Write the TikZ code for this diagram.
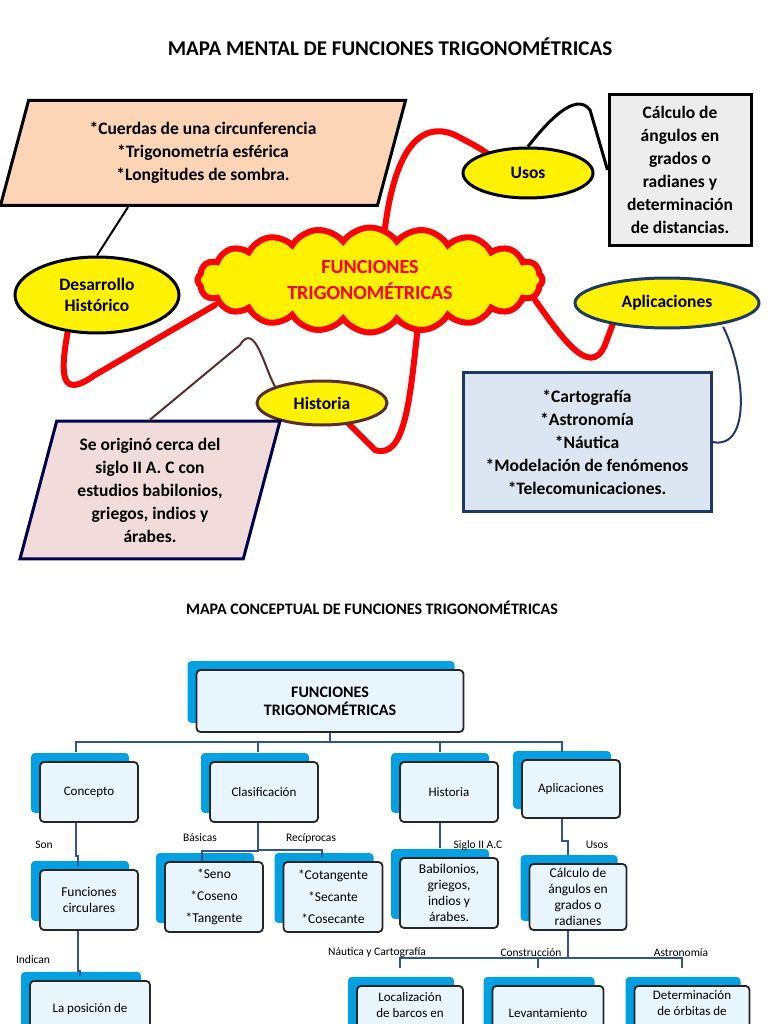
\documentclass[tikz,border=0pt]{standalone}
\usepackage{fontspec}
\setmainfont{Carlito}
\usetikzlibrary{positioning, shapes, shadows}
\definecolor{peach}{HTML}{FBD5B5}
\definecolor{rosa}{HTML}{F2DCDB}
\definecolor{azulc}{HTML}{DCE6F2}
\definecolor{azulo}{HTML}{1F3864}
\definecolor{cian}{HTML}{00A0E3}
\definecolor{celeste}{HTML}{E8F5FD}
\definecolor{linea}{HTML}{2F5597}
\definecolor{cafe}{HTML}{5A2D2D}

\begin{document}
\begin{tikzpicture}[x=1pt, y=-1pt, font=\bfseries,
    idea/.style = {ellipse, draw, line width=3pt, fill=yellow, font=\fontsize{17.5}{21}\selectfont\bfseries, align=center, inner sep=0pt},
    nota/.style = {draw, line width=3pt, align=center, font=\fontsize{17.5}{23}\selectfont\bfseries},
    rama/.style = {red, line width=6pt, line cap=round},
    caja/.style = {draw=black!85, line width=1.8pt, rounded corners=4pt, fill=celeste, align=center,
      font=\fontsize{13}{16}\selectfont,
      general shadow={fill=cian, shadow xshift=-9pt, shadow yshift=9pt}},
    enlace/.style = {draw=linea, line width=1.6pt},
    etiq/.style = {font=\fontsize{11.5}{13}\selectfont\mdseries},
    texto/.style = {align=center, font=\fontsize{13}{16}\selectfont\mdseries}]
  \useasboundingbox (0,0) rectangle (768,1024);
  \clip (0,0) rectangle (768,1024);

  % mapa mental
  \node (tit1) at (390,47) {\fontsize{21}{24}\selectfont MAPA MENTAL DE FUNCIONES TRIGONOMÉTRICAS};

  \draw[rama] (385,228) .. controls (395,150) and (420,120) .. (455,135) .. controls (470,143) and (485,150) .. (495,160);
  \draw[rama] (68,330) .. controls (60,375) and (60,400) .. (95,375) -- (215,305);
  \draw[rama] (418,325) .. controls (410,400) and (405,460) .. (375,450) -- (345,420);
  \draw[rama] (535,300) .. controls (560,335) and (590,380) .. (605,345) -- (615,318);

  \node[cloud, cloud puffs=20, cloud puff arc=110, aspect=3.4, draw=red, line width=6pt, fill=yellow, text=red,
    minimum width=345pt, minimum height=105pt, inner sep=0pt, align=center, font=\fontsize{20}{26}\selectfont\bfseries]
    (centro) at (370,280) {FUNCIONES\\TRIGONOMÉTRICAS};

  \node[nota, fill=peach, trapezium, trapezium left angle=75, trapezium right angle=105,
    minimum width=360pt, minimum height=105pt, inner xsep=0pt] (cuerdas) at (203,153)
    {*Cuerdas de una circunferencia\\*Trigonometría esférica\\*Longitudes de sombra.};
  \node[idea, minimum width=164pt, minimum height=76pt] (desarrollo) at (97,295) {Desarrollo\\Histórico};
  \node[idea, minimum width=130pt, minimum height=50pt] (usos) at (528,173) {Usos};
  \node[nota, fill=black!7, minimum width=142pt, minimum height=150pt, inner xsep=2pt] (calculo) at (680,170)
    {Cálculo de\\ángulos en\\grados o\\radianes y\\determinación\\de distancias.};
  \node[idea, draw=azulo, minimum width=184pt, minimum height=50pt] (aplic) at (667,303) {Aplicaciones};
  \node[nota, draw=azulo, fill=azulc, minimum width=248pt, minimum height=139pt] (campos) at (587,442)
    {*Cartografía\\*Astronomía\\*Náutica\\*Modelación de fenómenos\\*Telecomunicaciones.};
  \node[idea, draw=cafe, minimum width=130pt, minimum height=44pt] (historia) at (322,403) {Historia};
  \node[nota, draw=black!70!blue, fill=rosa, trapezium, trapezium left angle=75, trapezium right angle=105,
    minimum width=260pt, minimum height=116pt, inner xsep=0pt, inner ysep=1pt] (origen) at (150,490)
    {Se originó cerca del\\siglo II A. C con\\estudios babilonios,\\griegos, indios y\\árabes.};

  \draw[line width=2pt] (cuerdas.south) ++(-75,0) -- (desarrollo.north);
  \draw[line width=3pt] (usos.north) .. controls (545,125) and (575,90) .. (590,110) -- (calculo.west);
  \draw[cafe, line width=2pt] (historia.north west) .. controls (265,370) and (255,320) .. (240,345) -- (origen.north);
  \draw[azulo, line width=2pt] (aplic.south east) ++(-10,5) .. controls (745,370) and (752,450) .. (campos.east);

  % mapa conceptual
  \node (tit2) at (372,608) {\fontsize{16}{18}\selectfont MAPA CONCEPTUAL DE FUNCIONES TRIGONOMÉTRICAS};

  \node[caja, minimum width=267pt, minimum height=62pt, font=\fontsize{16}{18}\selectfont\bfseries] (raiz) at (330,701) {FUNCIONES\\TRIGONOMÉTRICAS};
  \node[caja, minimum width=98pt, minimum height=60pt] (concepto) at (89,792) {Concepto};
  \node[caja, minimum width=108pt, minimum height=60pt] (clasif) at (264,792) {Clasificación};
  \node[caja, minimum width=98pt, minimum height=60pt] (hist) at (449,792) {Historia};
  \node[caja, minimum width=98pt, minimum height=58pt] (aplica) at (571,789) {Aplicaciones};

  \node[caja, minimum width=98pt, minimum height=60pt, font=\fontsize{13.5}{16}\selectfont\mdseries] (circ) at (89,900) {Funciones\\circulares};
  \node[caja, minimum width=98pt, minimum height=70pt, font=\fontsize{13.5}{22}\selectfont\mdseries] (basicas) at (214,897) {*Seno\\*Coseno\\*Tangente};
  \node[caja, minimum width=99pt, minimum height=70pt, font=\fontsize{13.5}{22}\selectfont\mdseries] (recip) at (333,897) {*Cotangente\\*Secante\\*Cosecante};
  \node[caja, minimum width=98pt, minimum height=70pt, font=\fontsize{13.5}{16}\selectfont\mdseries, inner sep=1pt] (pueblos) at (449,893) {Babilonios,\\griegos,\\indios y\\árabes.};
  \node[caja, minimum width=97pt, minimum height=66pt, font=\fontsize{13.5}{16}\selectfont\mdseries, inner sep=1pt] (angulos) at (578,897) {Cálculo de\\ángulos en\\grados o\\radianes};

  \node[caja, minimum width=120pt, minimum height=90pt, anchor=north] (posicion) at (90,980) {};
  \node[caja, minimum width=106pt, minimum height=90pt, anchor=north] (barcos) at (410,985) {};
  \node[caja, minimum width=111pt, minimum height=90pt, anchor=north] (levant) at (548,985) {};
  \node[caja, minimum width=115pt, minimum height=90pt, anchor=north] (orbitas) at (692,985) {};
  \node[texto, below=20pt of posicion.north] (tposicion) {La posición de};
  \node[texto, below=4pt of barcos.north] (tbarcos) {Localización\\de barcos en};
  \node[texto, below=20pt of levant.north] (tlevant) {Levantamiento};
  \node[texto, below=2pt of orbitas.north] (torbitas) {Determinación\\de órbitas de};

  \draw[enlace] (raiz.south) -- (330,742);
  \draw[enlace] (76,752) -- (76,742) -- (562,742) -- (562,752);
  \draw[enlace] (258,742) -- (258,752);
  \draw[enlace] (440,742) -- (440,752);
  \draw[enlace] (concepto.south) ++(-13,0) -- ++(0,33) -- ++(2,0) -- ++(0,10);
  \draw[enlace] (clasif.south) ++(-6,0) -- ++(0,28) -- ++(-56,0) -- ++(0,10);
  \draw[enlace] (258,850) -- (322,850) -- (322,857);
  \draw[enlace] (hist.south) ++(-9,0) -- ++(0,25);
  \draw[enlace] (aplica.south) ++(-9,0) -- ++(0,22) -- ++(6,0) -- ++(0,14);
  \draw[enlace] (circ.south) ++(-11,0) -- ++(0,40) -- ++(2,0) -- ++(0,5);
  \draw[enlace] (angulos.south) ++(-10,0) -- (568,958);
  \draw[enlace] (400,968) -- (400,958) -- (682,958) -- (682,968);
  \draw[enlace] (538,958) -- (538,968);

  \node[etiq] (son) at (44,845) {Son};
  \node[etiq] (lbas) at (200,838) {Básicas};
  \node[etiq] (lrec) at (311,838) {Recíprocas};
  \node[etiq] (siglo) at (478,845) {Siglo II A.C};
  \node[etiq] (lusos) at (597,845) {Usos};
  \node[etiq] (indican) at (33,960) {Indican};
  \node[etiq] (nautica) at (377,953) {Náutica y Cartografía};
  \node[etiq] (constr) at (531,953) {Construcción};
  \node[etiq] (astro) at (681,953) {Astronomía};
\end{tikzpicture}
\end{document}
